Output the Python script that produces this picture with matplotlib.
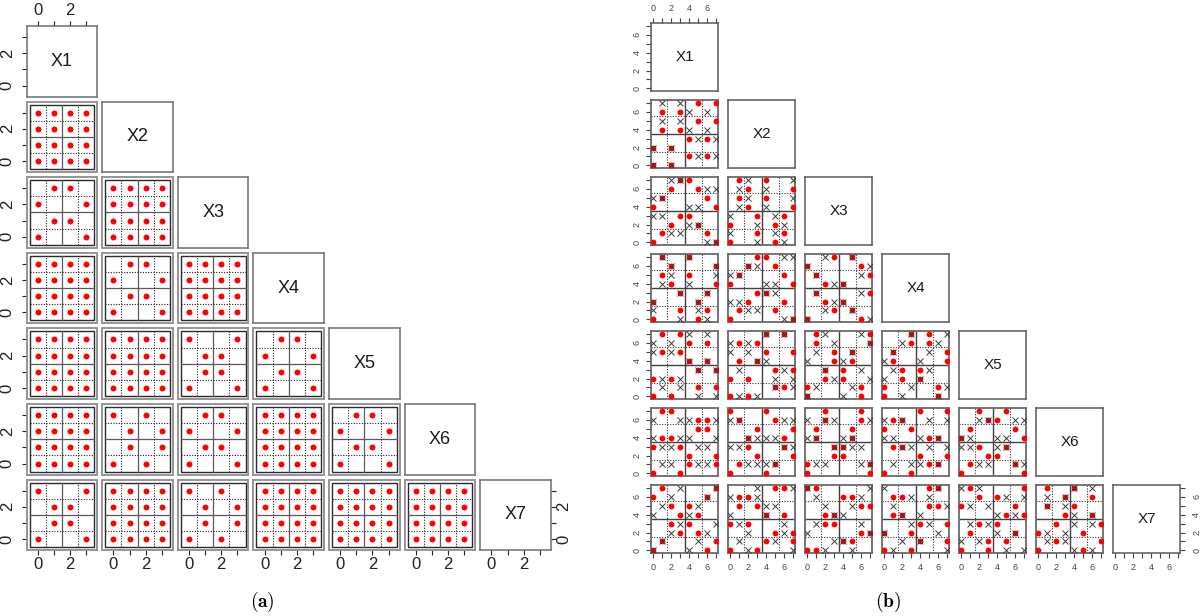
import matplotlib
matplotlib.use('Agg')
import matplotlib.pyplot as plt
from matplotlib.patches import Rectangle

plt.rcParams['font.family'] = ['Liberation Sans', 'DejaVu Sans']
plt.rcParams['mathtext.fontset'] = 'cm'

names = ['X1', 'X2', 'X3', 'X4', 'X5', 'X6', 'X7']

# ---------------- (a) four-level design, point patterns per panel
a_full = [(0, 0), (1, 0), (2, 0), (3, 0), (0, 1), (1, 1), (2, 1), (3, 1),
          (0, 2), (1, 2), (2, 2), (3, 2), (0, 3), (1, 3), (2, 3), (3, 3)]
a_half_a = [(0, 0), (3, 0), (1, 1), (2, 1), (0, 2), (3, 2), (1, 3), (2, 3)]
a_half_b = [(0, 0), (3, 0), (1, 1), (2, 1), (1, 2), (2, 2), (0, 3), (3, 3)]
a_half_c = [(0, 0), (2, 0), (1, 1), (3, 1), (1, 2), (3, 2), (0, 3), (2, 3)]

# rows X2..X7, columns X1..
a_rows = [
    [a_full],
    [a_half_a, a_full],
    [a_full, a_half_a, a_full],
    [a_full, a_full, a_half_b, a_half_a],
    [a_full, a_half_c, a_half_a, a_full, a_half_a],
    [a_half_b, a_full, a_half_c, a_full, a_full, a_full],
]

# ---------------- (b) eight-level designs: red dots and crosses
red_21 = [(1,6),(3,6),(5,7),(7,7),(5,5),(7,5),(1,4),(3,4),(4,3),(6,3),(4,1),(6,1),(0,2),(2,2),(0,0),(2,0)]
crs_21 = [(1,7),(3,7),(4,6),(6,6),(1,5),(3,5),(4,4),(6,4),(5,3),(7,3),(5,1),(7,1),(0,2),(2,2),(0,0),(2,0)]

red_31 = [(3,7),(4,7),(2,6),(5,6),(1,5),(6,5),(0,4),(7,4),(3,3),(4,3),(2,2),(5,2),(1,1),(6,1),(0,0),(7,0)]
crs_31 = [(2,7),(3,7),(6,6),(7,6),(0,5),(1,5),(4,4),(5,4),(0,3),(1,3),(4,2),(5,2),(2,1),(3,1),(6,0),(7,0)]
red_32 = [(1,7),(4,7),(2,6),(7,6),(1,5),(4,5),(2,4),(7,4),(3,3),(6,3),(0,2),(5,2),(3,1),(6,1),(0,0),(5,0)]
crs_32 = [(2,7),(7,7),(1,6),(4,6),(2,5),(7,5),(1,4),(4,4),(0,3),(5,3),(3,2),(6,2),(0,1),(5,1),(3,0),(6,0)]

red_41 = [(1,7),(4,7),(2,6),(7,6),(1,5),(4,5),(2,4),(7,4),(3,3),(6,3),(0,2),(5,2),(3,1),(6,1),(0,0),(5,0)]
crs_41 = [(1,7),(4,7),(2,6),(7,6),(2,5),(7,5),(1,4),(4,4),(3,3),(6,3),(0,2),(5,2),(0,1),(5,1),(3,0),(6,0)]
red_42 = [(3,7),(4,7),(2,6),(5,6),(1,5),(6,5),(0,4),(7,4),(3,3),(4,3),(2,2),(6,2),(1,1),(5,1),(0,0),(7,0)]
crs_42 = [(6,7),(7,7),(2,6),(3,6),(0,5),(1,5),(4,4),(5,4),(4,3),(5,3),(0,2),(1,2),(2,1),(3,1),(6,0),(7,0)]
red_43 = [(3,7),(5,7),(0,6),(6,6),(1,5),(7,5),(2,4),(4,4),(1,3),(7,3),(2,2),(4,2),(3,1),(5,1),(0,0),(6,0)]
crs_43 = [(2,7),(5,7),(0,6),(7,6),(1,5),(6,5),(3,4),(4,4),(1,3),(6,3),(3,2),(4,2),(2,1),(5,1),(0,0),(7,0)]

red_51 = [(1,7),(3,7),(4,6),(6,6),(1,5),(3,5),(4,4),(6,4),(5,3),(7,3),(0,2),(2,2),(5,1),(7,1),(0,0),(2,0)]
crs_51 = [(4,7),(6,7),(0,6),(2,6),(0,5),(2,5),(4,4),(6,4),(5,3),(7,3),(1,2),(3,2),(1,1),(3,1),(5,0),(7,0)]
red_52 = [(4,7),(6,7),(1,6),(3,6),(4,5),(7,5),(1,4),(3,4),(5,3),(7,3),(0,2),(2,2),(5,1),(6,1),(0,0),(2,0)]
crs_52 = [(4,7),(6,7),(0,6),(2,6),(0,5),(2,5),(3,4),(4,4),(1,3),(6,3),(5,2),(7,2),(5,1),(7,1),(1,0),(3,0)]
red_53 = [(1,7),(7,7),(1,6),(7,6),(3,5),(5,5),(3,4),(5,4),(2,3),(4,3),(2,2),(4,2),(0,1),(6,1),(0,0),(6,0)]
crs_53 = [(2,7),(6,7),(3,6),(7,6),(1,5),(5,5),(0,4),(4,4),(2,3),(6,3),(3,2),(7,2),(1,1),(5,1),(0,0),(4,0)]
red_54 = [(3,7),(5,7),(3,6),(5,6),(1,5),(7,5),(1,4),(7,4),(2,3),(4,3),(2,2),(4,2),(0,1),(6,1),(0,0),(6,0)]
crs_54 = [(3,7),(7,7),(2,6),(6,6),(1,5),(5,5),(0,4),(4,4),(1,3),(5,3),(0,2),(4,2),(3,1),(7,1),(2,0),(6,0)]

red_61 = [(1,7),(2,7),(5,6),(6,6),(5,5),(6,5),(1,4),(2,4),(0,3),(3,3),(4,2),(7,2),(4,1),(7,1),(0,0),(3,0)]
crs_61 = [(0,6),(3,6),(4,6),(7,6),(0,4),(3,4),(4,4),(7,4),(1,3),(2,3),(5,3),(6,3),(1,1),(2,1),(5,1),(6,1)]
red_62 = [(0,7),(4,7),(1,6),(5,6),(3,5),(7,5),(2,4),(6,4),(2,3),(6,3),(3,2),(7,2),(1,1),(5,1),(0,0),(4,0)]
crs_62 = [(0,6),(1,6),(6,6),(7,6),(2,4),(3,4),(4,4),(5,4),(0,3),(1,3),(6,3),(7,3),(2,1),(3,1),(4,1),(5,1)]
red_63 = [(2,7),(6,7),(2,6),(6,6),(1,5),(5,5),(1,4),(5,4),(3,3),(4,3),(3,2),(4,2),(0,1),(7,1),(0,0),(7,0)]
crs_63 = [(0,6),(2,6),(3,6),(7,6),(0,4),(1,4),(4,4),(5,4),(3,3),(4,3),(5,3),(6,3),(1,1),(2,1),(6,1),(7,1)]
red_64 = [(4,7),(7,7),(1,6),(2,6),(0,5),(3,5),(5,4),(6,4),(1,3),(2,3),(4,2),(7,2),(5,1),(6,1),(0,0),(3,0)]
crs_64 = [(0,6),(2,6),(5,6),(7,6),(0,4),(1,4),(4,4),(6,4),(2,3),(3,3),(5,3),(7,3),(1,1),(3,1),(4,1),(6,1)]
red_65 = [(2,7),(5,7),(3,6),(4,6),(1,5),(6,5),(0,4),(7,4),(2,3),(5,3),(3,2),(4,2),(1,1),(6,1),(0,0),(7,0)]
crs_65 = [(2,6),(3,6),(6,6),(7,6),(0,4),(1,4),(4,4),(5,4),(0,3),(1,3),(4,3),(5,3),(2,1),(3,1),(6,1),(7,1)]

red_71 = [(1,7),(7,7),(0,6),(6,6),(2,5),(4,5),(3,4),(5,4),(2,3),(4,3),(3,2),(5,2),(1,1),(7,1),(0,0),(6,0)]
crs_71 = [(3,7),(7,7),(2,6),(6,6),(1,5),(5,5),(0,4),(4,4),(3,3),(7,3),(2,2),(6,2),(1,1),(5,1),(0,0),(4,0)]
red_72 = [(5,7),(6,7),(1,6),(2,6),(1,5),(3,5),(4,4),(6,4),(0,3),(2,3),(5,2),(7,2),(4,1),(7,1),(0,0),(3,0)]
crs_72 = [(3,7),(7,7),(0,6),(3,6),(4,5),(5,5),(0,4),(4,4),(1,3),(6,3),(2,2),(6,2),(1,1),(5,1),(2,0),(7,0)]
red_73 = [(0,7),(1,7),(4,6),(5,6),(6,5),(7,5),(2,4),(3,4),(2,3),(3,3),(6,2),(7,2),(4,1),(5,1),(0,0),(1,0)]
crs_73 = [(0,7),(7,7),(1,6),(6,6),(2,5),(5,5),(3,4),(4,4),(1,3),(6,3),(0,2),(7,2),(3,1),(4,1),(2,0),(5,0)]
red_74 = [(5,7),(6,7),(1,6),(2,6),(5,5),(6,5),(1,4),(2,4),(4,3),(7,3),(0,2),(3,2),(4,1),(7,1),(0,0),(3,0)]
crs_74 = [(0,7),(6,7),(3,6),(5,6),(1,5),(7,5),(2,4),(4,4),(3,3),(5,3),(0,2),(6,2),(2,1),(4,1),(1,0),(7,0)]
red_75 = [(1,7),(7,7),(2,6),(4,6),(0,5),(6,5),(5,4),(7,4),(2,3),(4,3),(1,2),(6,2),(3,1),(5,1),(0,0),(3,0)]
crs_75 = [(0,7),(2,7),(5,6),(7,6),(1,5),(3,5),(4,4),(6,4),(1,3),(3,3),(4,2),(6,2),(0,1),(2,1),(5,0),(7,0)]
red_76 = [(1,7),(4,7),(3,6),(6,6),(1,5),(4,5),(3,4),(6,4),(2,3),(7,3),(0,2),(5,2),(2,1),(7,1),(0,0),(5,0)]
crs_76 = [(4,7),(6,7),(1,6),(3,6),(1,5),(3,5),(4,4),(6,4),(4,3),(6,3),(1,2),(3,2),(1,1),(3,1),(4,0),(6,0)]

b_rows = [
    [(red_21, crs_21)],
    [(red_31, crs_31), (red_32, crs_32)],
    [(red_41, crs_41), (red_42, crs_42), (red_43, crs_43)],
    [(red_51, crs_51), (red_52, crs_52), (red_53, crs_53), (red_54, crs_54)],
    [(red_61, crs_61), (red_62, crs_62), (red_63, crs_63), (red_64, crs_64), (red_65, crs_65)],
    [(red_71, crs_71), (red_72, crs_72), (red_73, crs_73), (red_74, crs_74), (red_75, crs_75), (red_76, crs_76)],
]

W, H = 1200, 616
fig = plt.figure(figsize=(12, 6.16), dpi=100)


def add_box(x, y, size):
    return fig.add_axes([x / W, 1 - (y + size) / H, size / W, size / H])


def style_spines(ax, color, lw):
    for s in ax.spines.values():
        s.set_color(color)
        s.set_linewidth(lw)


def add_ticks(ax, side, major, minor, fs, pad, color):
    if side in ('top', 'bottom'):
        ax.set_xticks(major)
        ax.set_xticklabels([str(v) for v in major])
        ax.set_xticks(minor, minor=True)
        ax.tick_params(axis='x', which='both', top=side == 'top', bottom=side == 'bottom',
                       labeltop=side == 'top', labelbottom=side == 'bottom',
                       length=3.6, width=0.8, pad=pad, labelsize=fs, colors=color)
    else:
        ax.set_yticks(major)
        ax.set_yticklabels([str(v) for v in major], rotation=90, va='center')
        ax.set_yticks(minor, minor=True)
        ax.tick_params(axis='y', which='both', left=side == 'left', right=side == 'right',
                       labelleft=side == 'left', labelright=side == 'right',
                       length=3.6, width=0.8, pad=pad, labelsize=fs, colors=color)


def xy(pts):
    return [p[0] for p in pts], [p[1] for p in pts]


# ---------------- panel (a)
A_X0, A_Y0, A_STEP, A_SIZE = 26.7, 26.0, 75.6, 70.6
A_LIM = (-0.68, 3.68)
dot = (0, (1, 1.4))

for i in range(7):
    for j in range(i + 1):
        ax = add_box(A_X0 + j * A_STEP, A_Y0 + i * A_STEP, A_SIZE)
        ax.set_xlim(A_LIM)
        ax.set_ylim(A_LIM)
        ax.set_xticks([])
        ax.set_yticks([])
        if i == j:
            style_spines(ax, '#6e6e6e', 1.1)
            ax.text(0.5, 0.5, names[i], transform=ax.transAxes, ha='center',
                    va='center', fontsize=13, color='#1a1a1a')
        else:
            style_spines(ax, '#959595', 1.4)
            ax.add_patch(Rectangle((-0.5, -0.5), 4, 4, fill=False, ec='#2a2a2a', lw=1.0))
            ax.plot([1.5, 1.5], [-0.5, 3.5], color='#5a5a5a', lw=0.9)
            ax.plot([-0.5, 3.5], [1.5, 1.5], color='#5a5a5a', lw=0.9)
            for v in (0.5, 2.5):
                ax.plot([v, v], [-0.5, 3.5], color='#222222', lw=0.8, ls=dot)
                ax.plot([-0.5, 3.5], [v, v], color='#222222', lw=0.8, ls=dot)
            px, py = xy(a_rows[i - 1][j])
            ax.plot(px, py, 'o', color='red', ms=4.3, mec='none')
        if i == 0:
            add_ticks(ax, 'top', [0, 2], [1, 3], 12, 2.5, '#222222')
        if i == 6:
            add_ticks(ax, 'bottom', [0, 2], [1, 3], 12, 1.0, '#222222')
        if j == 0:
            add_ticks(ax, 'left', [0, 2], [1, 3], 12, 5.0, '#222222')
        if i == 6 and j == 6:
            add_ticks(ax, 'right', [0, 2], [1, 3], 12, 0.5, '#222222')

# ---------------- panel (b)
B_X0, B_Y0, B_STEP, B_SIZE = 650.7, 23.3, 77.0, 67.6
B_LIM = (-0.28, 7.28)

for i in range(7):
    for j in range(i + 1):
        ax = add_box(B_X0 + j * B_STEP, B_Y0 + i * B_STEP, B_SIZE)
        ax.set_xlim(B_LIM)
        ax.set_ylim(B_LIM)
        ax.set_xticks([])
        ax.set_yticks([])
        if i == j:
            style_spines(ax, '#5a5a5a', 1.1)
            ax.text(0.5, 0.5, names[i], transform=ax.transAxes, ha='center',
                    va='center', fontsize=11, color='#1a1a1a')
        else:
            style_spines(ax, '#6a6a6a', 1.3)
            ax.axvline(3.5, color='#404040', lw=1.0)
            ax.axhline(3.5, color='#404040', lw=1.0)
            for v in (1.5, 5.5):
                ax.axvline(v, color='#333333', lw=0.8, ls=dot)
                ax.axhline(v, color='#333333', lw=0.8, ls=dot)
            red, crs = b_rows[i - 1][j]
            rx, ry = xy(red)
            cx, cy = xy(crs)
            ax.plot(rx, ry, 'o', color='red', ms=4.2, mec='none', zorder=3)
            ax.plot(cx, cy, 'x', color='#3a3a3a', ms=3.8, mew=0.7, zorder=4)
        if i == 0:
            add_ticks(ax, 'top', [0, 2, 4, 6], [1, 3, 5, 7], 6.5, 3.5, '#3c4450')
        if i == 6:
            add_ticks(ax, 'bottom', [0, 2, 4, 6], [1, 3, 5, 7], 6.5, 4.0, '#3c4450')
        if j == 0:
            add_ticks(ax, 'left', [0, 2, 4, 6], [1, 3, 5, 7], 6.5, 3.0, '#3c4450')
        if i == 6 and j == 6:
            add_ticks(ax, 'right', [0, 2, 4, 6], [1, 3, 5, 7], 6.5, 5.0, '#3c4450')

fig.text(262 / W, 1 - 602 / H, r'$\mathbf{(a)}$', ha='center', va='center', fontsize=14)
fig.text(888 / W, 1 - 602 / H, r'$\mathbf{(b)}$', ha='center', va='center', fontsize=14)

fig.savefig('out.png', dpi=100)
